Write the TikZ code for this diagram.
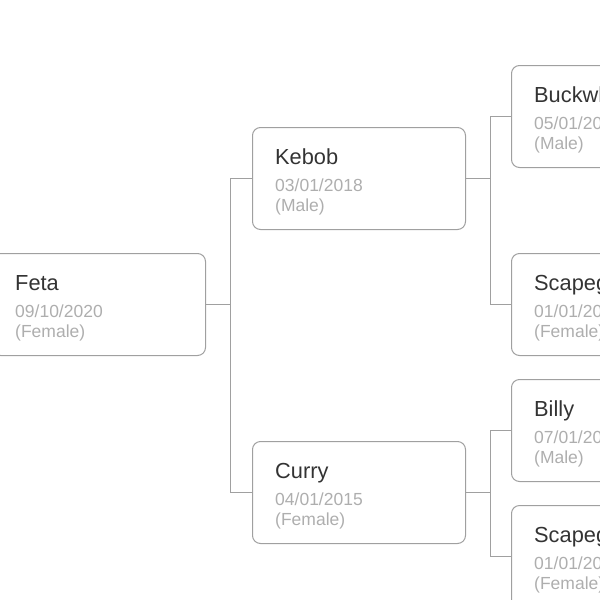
\documentclass[tikz,border=0pt]{standalone}
\usepackage{fontspec}
\setmainfont{Liberation Sans}
\definecolor{boxline}{HTML}{A0A0A0}
\definecolor{nametext}{HTML}{333333}
\definecolor{subtext}{HTML}{AEAEAE}
\tikzset{
  personbox/.style={draw=boxline, line width=1pt, rounded corners=8pt, minimum width=213pt, minimum height=102pt, inner sep=0pt, anchor=north west},
  nametxt/.style={anchor=base west, inner sep=0pt, text=nametext, font=\fontsize{21.8}{24}\selectfont},
  subtxt/.style={anchor=base west, inner sep=0pt, text=subtext, font=\fontsize{17.5}{20}\selectfont},
  conn/.style={draw=boxline, line width=1pt}
}
\newcommand\personnode[6]{%
  \node[personbox] (#1) at (#2,#3) {};
  \node[nametxt] (#1-n) at ([xshift=23pt,yshift=-37pt]#1.north west) {#4};
  \node[subtxt] (#1-d) at ([xshift=23pt,yshift=-64pt]#1.north west) {#5};
  \node[subtxt] (#1-s) at ([xshift=23pt,yshift=-84pt]#1.north west) {#6};
}
\begin{document}
\begin{tikzpicture}[x=1pt,y=-1pt]
\useasboundingbox (0,0) rectangle (600,600);
\clip (0,0) rectangle (600,600);
\personnode{feta}{-8}{253}{Feta}{09/10/2020}{(Female)}
\personnode{kebob}{252}{127}{Kebob}{03/01/2018}{(Male)}
\personnode{curry}{252}{441}{Curry}{04/01/2015}{(Female)}
\personnode{buck}{511}{65}{Buckwheat}{05/01/2012}{(Male)}
\personnode{scapea}{511}{253}{Scapegoat}{01/01/2010}{(Female)}
\personnode{billy}{511}{379}{Billy}{07/01/2010}{(Male)}
\personnode{scapeb}{511}{505}{Scapegoat}{01/01/2010}{(Female)}
\draw[conn] (feta.east) -- +(24,0) |- (kebob.west);
\draw[conn] (feta.east) -- +(24,0) |- (curry.west);
\draw[conn] (kebob.east) -- +(24,0) |- (buck.west);
\draw[conn] (kebob.east) -- +(24,0) |- (scapea.west);
\draw[conn] (curry.east) -- +(24,0) |- (billy.west);
\draw[conn] (curry.east) -- +(24,0) |- (scapeb.west);
\end{tikzpicture}
\end{document}
